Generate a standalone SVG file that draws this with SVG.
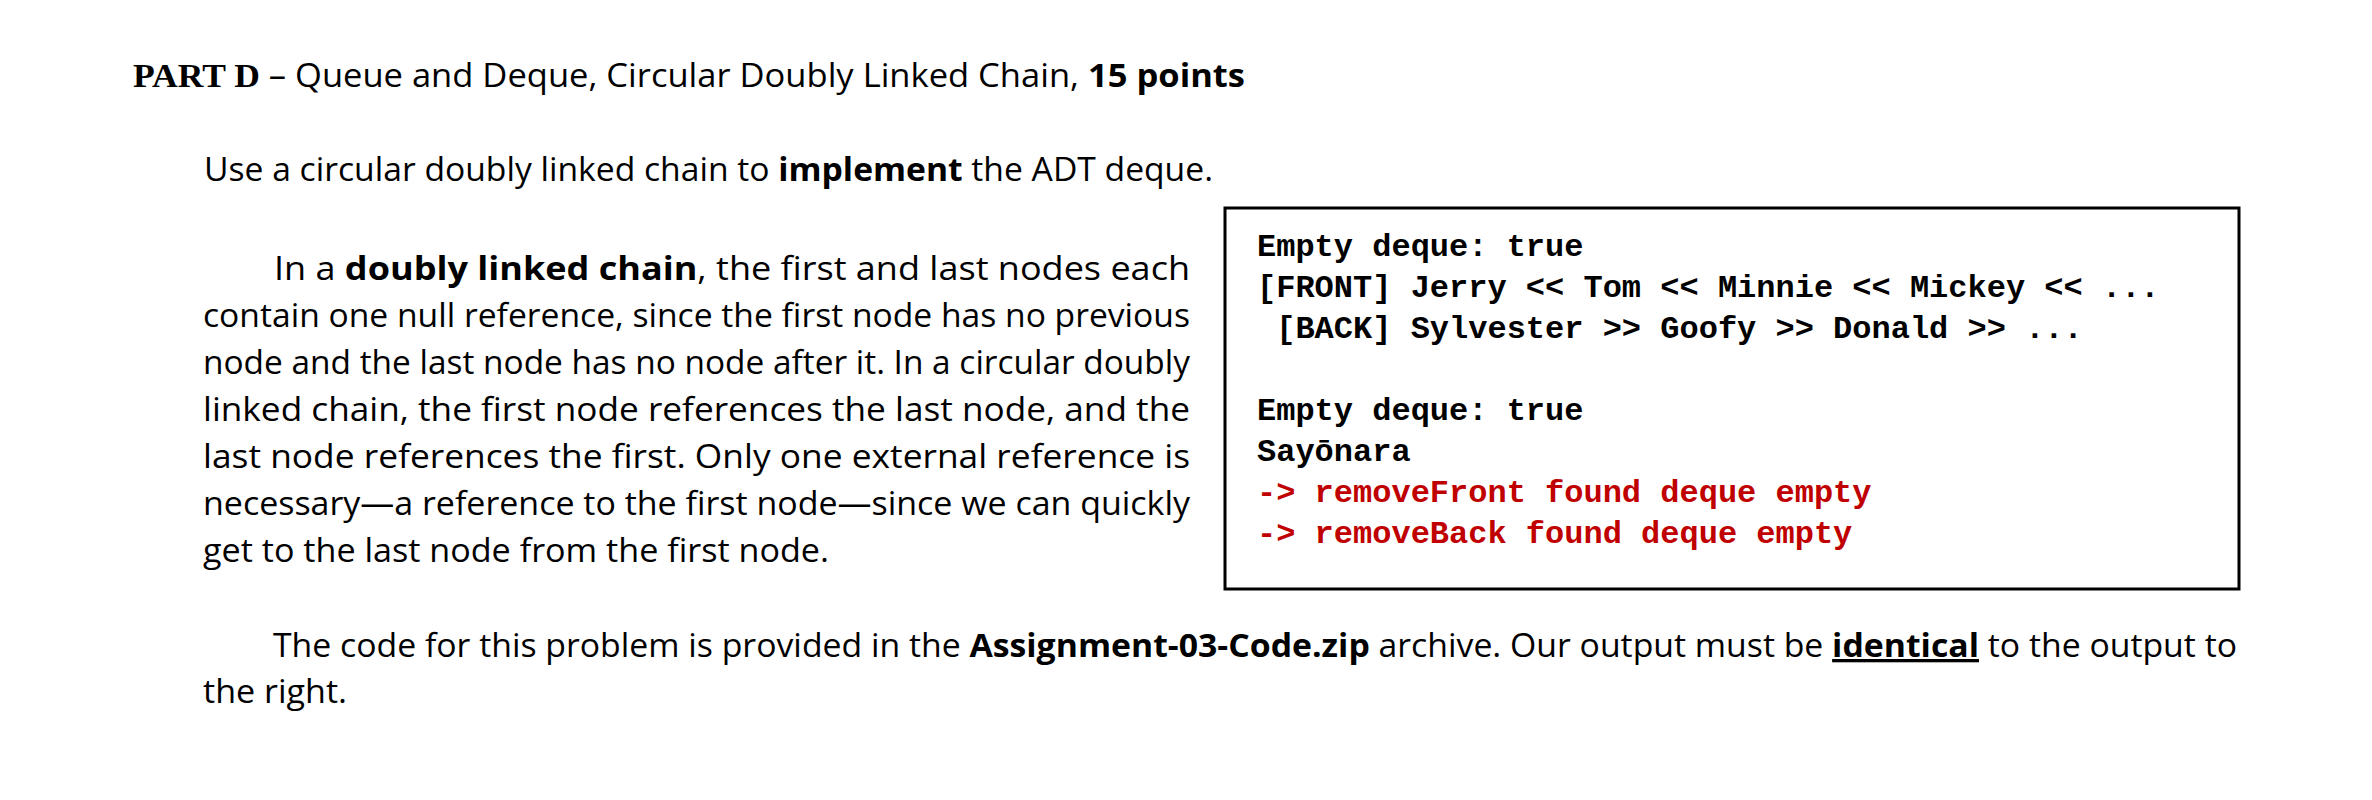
<svg xmlns="http://www.w3.org/2000/svg" width="2372" height="800" viewBox="0 0 2372 800">
<style>
.b{font-family:"Open Sans","Noto Sans","Liberation Sans",sans-serif;font-size:33px;fill:#000}
.bold{font-weight:bold}
.code{font-family:"Liberation Mono","DejaVu Sans Mono",monospace;font-size:32px;font-weight:bold;fill:#000;white-space:pre}
.red{fill:#c00000}
</style>
<rect width="2372" height="800" fill="#fff"/>
<g id="title">
<text x="133" y="87" class="b" textLength="1112" lengthAdjust="spacingAndGlyphs"><tspan font-family="'Liberation Serif',serif" font-weight="bold" font-size="34">PART D</tspan> – Queue and Deque, Circular Doubly Linked Chain, <tspan class="bold">15 points</tspan></text>
</g>
<g id="intro">
<text x="204" y="181" class="b" textLength="1009" lengthAdjust="spacingAndGlyphs">Use a circular doubly linked chain to <tspan class="bold">implement</tspan> the ADT deque.</text>
</g>
<g id="paragraph">
<text x="274" y="280" class="b" textLength="916" lengthAdjust="spacingAndGlyphs">In a <tspan class="bold">doubly linked chain</tspan>, the first and last nodes each</text>
<text x="203" y="327" class="b" textLength="987" lengthAdjust="spacingAndGlyphs">contain one null reference, since the first node has no previous</text>
<text x="203" y="374" class="b" textLength="987" lengthAdjust="spacingAndGlyphs">node and the last node has no node after it. In a circular doubly</text>
<text x="203" y="421" class="b" textLength="987" lengthAdjust="spacingAndGlyphs">linked chain, the first node references the last node, and the</text>
<text x="203" y="468" class="b" textLength="987" lengthAdjust="spacingAndGlyphs">last node references the first. Only one external reference is</text>
<text x="203" y="515" class="b" textLength="987" lengthAdjust="spacingAndGlyphs">necessary—a reference to the first node—since we can quickly</text>
<text x="203" y="562" class="b" textLength="626" lengthAdjust="spacingAndGlyphs">get to the last node from the first node.</text>
</g>
<g id="output-box">
<rect x="1225" y="208" width="1014" height="381" fill="#fff" stroke="#000" stroke-width="3"/>
<text x="1257" y="256" class="code">Empty deque: true</text>
<text x="1257" y="297" class="code">[FRONT] Jerry &lt;&lt; Tom &lt;&lt; Minnie &lt;&lt; Mickey &lt;&lt; ...</text>
<text x="1257" y="338" class="code"> [BACK] Sylvester &gt;&gt; Goofy &gt;&gt; Donald &gt;&gt; ...</text>
<text x="1257" y="420" class="code">Empty deque: true</text>
<text x="1257" y="461" class="code">Sayōnara</text>
<text x="1257" y="502" class="code red">-&gt; removeFront found deque empty</text>
<text x="1257" y="543" class="code red">-&gt; removeBack found deque empty</text>
</g>
<g id="footer">
<text x="273" y="657" class="b" textLength="1964" lengthAdjust="spacingAndGlyphs">The code for this problem is provided in the <tspan class="bold">Assignment-03-Code.zip</tspan> archive. Our output must be <tspan class="bold" text-decoration="underline">identical</tspan> to the output to</text>
<text x="203" y="703" class="b" textLength="144" lengthAdjust="spacingAndGlyphs">the right.</text>
</g>
<g id="connectors"/>
</svg>
